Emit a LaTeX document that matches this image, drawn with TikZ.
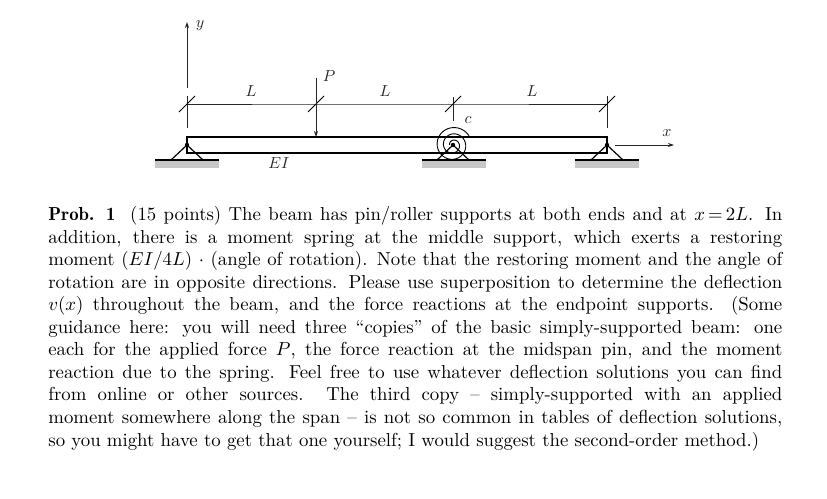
\documentclass[tikz,border=0pt]{standalone}
\usetikzlibrary{arrows.meta}
\tikzset{
  thinline/.style={line width=0.8pt,black!85},
  beamline/.style={line width=1.2pt,black},
  arrowline/.style={line width=0.8pt,black!85,-{Stealth[length=6pt,width=4pt]}},
  tick/.style={line width=0.8pt,black},
  lab/.style={inner sep=0pt,scale=1.6,transform shape,black!85},
  groundbar/.style={fill=black!22,draw=none},
  supportline/.style={line width=1.2pt,black,line join=round}
}
\begin{document}
\begin{tikzpicture}[x=1pt,y=-1pt]
\useasboundingbox (0,0) rectangle (827,498);
% named points
\coordinate (yfoot) at (187,88);
\coordinate (ytip) at (187,22);
\coordinate (dA) at (187,104);
\coordinate (dB) at (316,104);
\coordinate (dC) at (453,104);
\coordinate (dD) at (607,104);
\coordinate (pTop) at (316,78);
\coordinate (pEnd) at (316,137);
\coordinate (xs) at (615,145);
\coordinate (xe) at (674,145);
% grounds
\fill[groundbar] (155,160) rectangle (219,168);
\fill[groundbar] (422,160) rectangle (486,168);
\fill[groundbar] (575,160) rectangle (639,168);
% beam
\draw[beamline] (187,137) rectangle (607,153);
% supports
\foreach \c/\gl/\gr in {187/155/219,453/422/486,607/575/639}{
  \draw[supportline] (\gl,160) -- (\gr,160);
  \draw[supportline] (\c-16,160) -- (\c,145) -- (\c+16,160);
  \fill (\c,145) circle (2.2);
}
% spring
\draw[line width=0.9pt,black] plot[smooth,samples=80,domain=30:900,variable=\t]
  ({453+(18.5-0.0175*(\t-30))*cos(\t)},{145-(18.5-0.0175*(\t-30))*sin(\t)});
% y axis
\draw[arrowline] (yfoot) -- (ytip);
\node[lab] (ylab) at (200,26) {$y$};
% extension lines
\draw[thinline] (187,96) -- (187,128);
\draw[thinline] (453,97) -- (453,121);
\draw[thinline] (607,96) -- (607,128);
% dimension line
\draw[thinline] (dA) -- (dB) -- (dC) -- (dD);
\foreach \p in {dA,dB,dC,dD}
  \draw[tick] ([shift={(-8,8)}]\p) -- ([shift={(8,-8)}]\p);
% force
\draw[arrowline] (pTop) -- (pEnd);
\node[lab] (plab) at (329,76) {$P$};
\node[lab] (l1) at (251,91) {$L$};
\node[lab] (l2) at (385,91) {$L$};
\node[lab] (l3) at (532,91) {$L$};
\node[lab] (clab) at (468,120) {$c$};
\node[lab] (ei) at (279,163) {$EI$};
% x axis
\draw[arrowline] (xs) -- (xe);
\node[lab] (xlab) at (667,133) {$x$};
% text
\node[anchor=north west,inner sep=0pt,scale=1.88,transform shape,text width=390.4pt,align=justify,
      font=\fontsize{10}{12}\selectfont] (prob) at (48,206) {%
{\fontseries{b}\selectfont Prob. 1}\ \ (15 points) The beam has pin/roller supports at both ends and at $x{\,=\,}2L$. In\linebreak
addition, there is a moment spring at the middle support, which exerts a restoring\linebreak
moment $(EI/4L)$ $\cdot$ (angle of rotation). Note that the restoring moment and the angle of\linebreak
rotation are in opposite directions. Please use superposition to determine the deflection\linebreak
$v(x)$ throughout the beam, and the force reactions at the endpoint supports. (Some\linebreak
guidance here: you will need three ``copies'' of the basic simply-supported beam: one\linebreak
each for the applied force $P$, the force reaction at the midspan pin, and the moment\linebreak
reaction due to the spring. Feel free to use whatever deflection solutions you can find\linebreak
from online or other sources. The third copy -- simply-supported with an applied\linebreak
moment somewhere along the span -- is not so common in tables of deflection solutions,\linebreak
so you might have to get that one yourself; I would suggest the second-order method.)\par};
\end{tikzpicture}
\end{document}
